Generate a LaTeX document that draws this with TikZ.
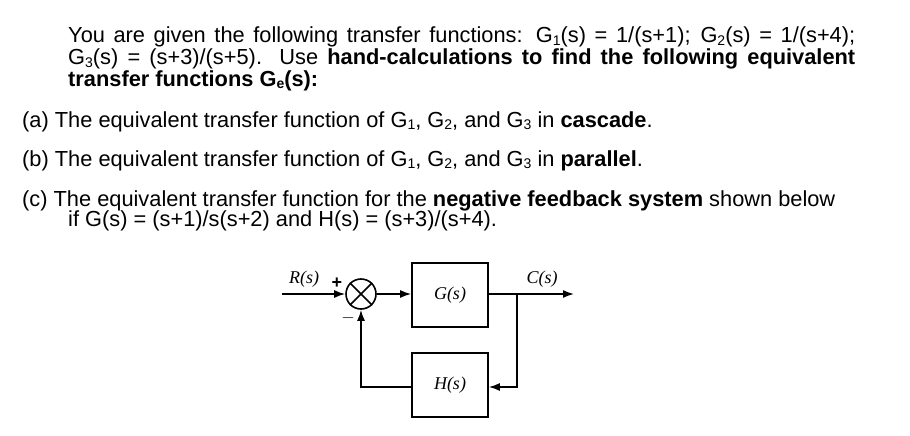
\documentclass[tikz,border=0pt]{standalone}
\usepackage{fontspec}
\setmainfont{Liberation Sans}
\newfontfamily\tnr{Liberation Serif}
\usetikzlibrary{arrows.meta}
\newcommand{\sbs}[1]{\raisebox{-0.2ex}{\fontsize{14}{14}\selectfont #1}}
\begin{document}
\begin{tikzpicture}[x=1pt,y=-1pt,
  txt/.style={anchor=base west,inner sep=0pt,font=\fontsize{21.8}{24}\selectfont},
  blk/.style={draw,line width=1.6pt,minimum width=76pt,minimum height=64pt,font=\tnr\itshape\fontsize{18}{20}\selectfont},
  lab/.style={font=\tnr\itshape\fontsize{18}{20}\selectfont,inner sep=0pt},
  sig/.style={line width=1.6pt,-{Latex[length=11pt,width=8pt]}}]
\useasboundingbox (0,0) rectangle (910,436);
\node[txt] (l1) at (68,43) {\hbox to 787pt{You are given the following transfer functions: G\sbs{1}(s) = 1/(s+1); G\sbs{2}(s) = 1/(s+4);}};
\node[txt] (l2) at (68,65) {\hbox to 787pt{G\sbs{3}(s) = (s+3)/(s+5). Use \textbf{hand-calculations to find the following equivalent}}};
\node[txt] (l3) at (68,86) {\textbf{transfer functions G\sbs{e}(s):}};
\node[txt] (la) at (22,127) {(a) The equivalent transfer function of G\sbs{1}, G\sbs{2}, and G\sbs{3} in \textbf{cascade}.};
\node[txt] (lb) at (22,166) {(b) The equivalent transfer function of G\sbs{1}, G\sbs{2}, and G\sbs{3} in \textbf{parallel}.};
\node[txt] (lc) at (22,206) {(c) The equivalent transfer function for the \textbf{negative feedback system} shown below};
\node[txt] (lc2) at (68,226) {if G(s) = (s+1)/s(s+2) and H(s) = (s+3)/(s+4).};
% diagram
\node[draw,circle,line width=1.6pt,minimum size=30pt,inner sep=0pt] (sum) at (361,294) {};
\draw[line width=1.6pt] (sum.north west)--(sum.south east) (sum.north east)--(sum.south west);
\node[blk] (G) at (450,295) {G(s)};
\node[blk] (H) at (450,385) {H(s)};
\coordinate (in) at (282,294);
\coordinate (out) at (574,294);
\coordinate (br) at (517,294);
\coordinate (fb) at (361,387);
\draw[sig] (in) -- (sum);
\draw[sig] (sum) -- (G.west|-sum);
\draw[sig] (G.east|-sum) -- (out);
\draw[sig] (br) |- (H.east|-fb);
\draw[sig] (H.west|-fb) -- (fb) -- (sum.south);
\node[lab] (R) at (304,279) {R(s)};
\node[lab] (C) at (542,279) {C(s)};
\node[font=\bfseries\fontsize{18}{18}\selectfont,inner sep=0pt] (p) at (337,283) {+};
\node[font=\bfseries\fontsize{18}{18}\selectfont,inner sep=0pt] (m) at (348,318) {$-$};
\end{tikzpicture}
\end{document}
